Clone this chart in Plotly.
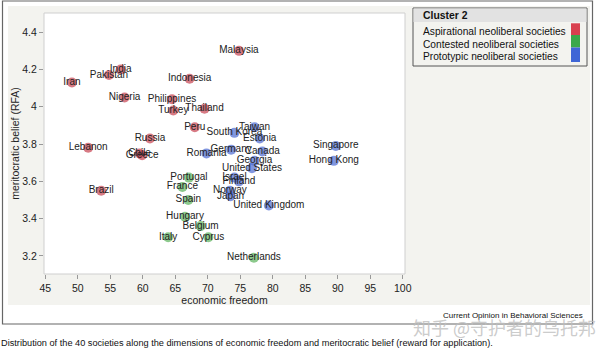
import plotly.graph_objects as go

# ---- data ----
asp_names = ["Iran", "India", "Pakistan", "Indonesia", "Nigeria", "Philippines", "Turkey",
             "Thailand", "Peru", "Russia", "Malaysia", "Lebanon", "Chile", "Greece", "Brazil"]
asp_x = [49.1, 56.6, 54.8, 67.2, 57.2, 64.5, 64.7, 69.5, 68.0, 61.1, 74.8, 51.6, 59.5, 59.9, 53.6]
asp_y = [4.13, 4.20, 4.17, 4.15, 4.05, 4.04, 3.98, 3.99, 3.89, 3.83, 4.30, 3.78, 3.75, 3.74, 3.55]

con_names = ["Portugal", "France", "Spain", "Hungary", "Belgium", "Italy", "Cyprus", "Netherlands"]
con_x = [67.1, 66.1, 67.0, 66.5, 68.9, 63.9, 70.1, 77.1]
con_y = [3.62, 3.57, 3.50, 3.41, 3.36, 3.30, 3.30, 3.19]

pro_names = ["Romania", "South Korea", "Taiwan", "Estonia", "Germany", "Canada", "Georgia",
             "United States", "Israel", "Finland", "Norway", "Japan", "United Kingdom",
             "Singapore", "Hong Kong"]
pro_x = [69.8, 74.1, 77.2, 78.0, 73.6, 78.4, 77.2, 76.8, 74.1, 74.8, 73.4, 73.5, 79.4, 89.7, 89.4]
pro_y = [3.75, 3.86, 3.89, 3.83, 3.77, 3.76, 3.71, 3.67, 3.62, 3.60, 3.55, 3.52, 3.47, 3.79, 3.71]

series_names = ["Aspirational neoliberal societies", "Contested neoliberal societies",
                "Prototypic neoliberal societies"]
series_colors = ["rgba(200,70,85,0.72)", "rgba(95,180,95,0.72)", "rgba(80,110,210,0.72)"]
swatch_colors = ["#d9404f", "#3aa84a", "#3f66d6"]

x_ticks = [45, 50, 55, 60, 65, 70, 75, 80, 85, 90, 95, 100]
y_ticks = [3.2, 3.4, 3.6, 3.8, 4.0, 4.2, 4.4]
y_tick_labels = ["3.2", "3.4", "3.6", "3.8", "4", "4.2", "4.4"]

FONT = "Liberation Sans, Arial, sans-serif"

# pixel layout helpers
W, H = 600, 357
L, R, T, B = 44, 405, 13, 274
def px(xp):
    return (xp - L) / (R - L)
def py(yp):
    return (B - yp) / (B - T)

fig = go.Figure()
for names, xs, ys, col, nm in [(asp_names, asp_x, asp_y, series_colors[0], series_names[0]),
                               (con_names, con_x, con_y, series_colors[1], series_names[1]),
                               (pro_names, pro_x, pro_y, series_colors[2], series_names[2])]:
    fig.add_trace(go.Scatter(
        x=xs, y=ys, text=names, mode="markers+text", name=nm,
        textposition="middle center",
        textfont=dict(family=FONT, size=10, color="#222"),
        marker=dict(size=10, color=col, line=dict(width=0)),
        showlegend=False, cliponaxis=False, hoverinfo="skip"))

shapes = []
# outer frame
shapes.append(dict(type="rect", xref="paper", yref="paper", layer="below",
                   x0=px(2.5), x1=px(592.5), y0=py(324), y1=py(1),
                   line=dict(color="#666", width=1.2), fillcolor="white"))
# grey panel
shapes.append(dict(type="rect", xref="paper", yref="paper", layer="below",
                   x0=px(8), x1=px(590), y0=py(305), y1=py(6),
                   line=dict(width=0), fillcolor="#f3f3ef"))
# plot area background
shapes.append(dict(type="rect", xref="paper", yref="paper", layer="below",
                   x0=0, x1=1, y0=0, y1=1,
                   line=dict(color="#cfcfcf", width=1), fillcolor="white"))
# legend box
shapes.append(dict(type="rect", xref="paper", yref="paper",
                   x0=px(413), x1=px(587), y0=py(66), y1=py(8),
                   line=dict(color="#555", width=1), fillcolor="#f3f3ef"))
shapes.append(dict(type="rect", xref="paper", yref="paper",
                   x0=px(413.5), x1=px(586.5), y0=py(22), y1=py(8.5),
                   line=dict(width=0), fillcolor="#e2e2e2"))
sw_y = [(23.3, 35), (35, 47.5), (47.5, 62)]
for (a, b), c in zip(sw_y, swatch_colors):
    shapes.append(dict(type="rect", xref="paper", yref="paper",
                       x0=px(571), x1=px(580), y0=py(b), y1=py(a),
                       line=dict(width=0), fillcolor=c))

annotations = []
annotations.append(dict(text="<b>Cluster 2</b>", xref="paper", yref="paper",
                        x=px(420.5), y=py(16), xanchor="left", yanchor="middle",
                        showarrow=False, font=dict(family=FONT, size=10.4, color="#111")))
for nm, yy in zip(series_names, [31.5, 44, 57]):
    annotations.append(dict(text=nm, xref="paper", yref="paper",
                            x=px(420.5), y=py(yy), xanchor="left", yanchor="middle",
                            showarrow=False, font=dict(family=FONT, size=10.2, color="#111")))
annotations.append(dict(text="Current Opinion in Behavioral Sciences", xref="paper", yref="paper",
                        x=px(585), y=py(315.5), xanchor="right", yanchor="middle",
                        showarrow=False, font=dict(family=FONT, size=8, color="#111")))
annotations.append(dict(text="Distribution of the 40 societies along the dimensions of economic freedom and meritocratic belief (reward for application).",
                        xref="paper", yref="paper",
                        x=px(-1), y=py(343), xanchor="left", yanchor="middle",
                        showarrow=False, font=dict(family=FONT, size=9.2, color="#111")))
annotations.append(dict(text="知乎 @守护者的乌托邦", xref="paper", yref="paper",
                        x=px(598), y=py(327), xanchor="right", yanchor="middle",
                        showarrow=False,
                        font=dict(family="Noto Sans CJK SC", size=18, color="rgba(190,190,190,0.8)")))

fig.update_layout(
    width=W, height=H,
    margin=dict(l=L, r=W - R, t=T, b=H - B, pad=0, autoexpand=False),
    paper_bgcolor="white", plot_bgcolor="rgba(0,0,0,0)",
    font=dict(family=FONT, size=11, color="#222"),
    shapes=shapes, annotations=annotations,
    showlegend=False, hovermode=False,
    xaxis=dict(range=[44.8, 100.35], tickvals=x_ticks, ticks="outside", ticklen=4,
               tickcolor="#999", showgrid=False, zeroline=False, automargin=False,
               tickfont=dict(family=FONT, size=10.5, color="#222"),
               title=dict(text="economic freedom", standoff=0,
                          font=dict(family=FONT, size=10.5, color="#222"))),
    yaxis=dict(range=[3.103, 4.503], tickvals=y_ticks, ticktext=y_tick_labels,
               ticks="outside", ticklen=4,
               tickcolor="#999", showgrid=False, zeroline=False, automargin=False,
               tickfont=dict(family=FONT, size=10.5, color="#222"),
               title=dict(text="meritocratic belief (RFA)", standoff=0,
                          font=dict(family=FONT, size=10.5, color="#222"))),
)

fig.write_html("out.html", config={"displayModeBar": False, "staticPlot": True},
               post_script="document.body.style.margin='0';document.body.style.padding='0';")
